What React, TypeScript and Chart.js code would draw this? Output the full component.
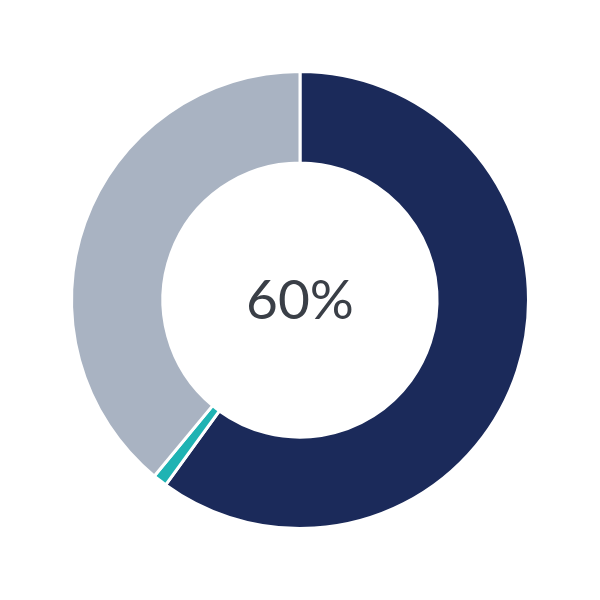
import React, { useEffect, useRef } from "react";
import { Chart, registerables } from "chart.js";

Chart.register(...registerables);

const labels = ["Achieved", "In progress", "Remaining"];
const values = [60, 1, 39];
const colors = ["#1b2a5a", "#1fb3b3", "#a9b3c2"];
const centerLabel = "60%";

export default function App() {
  const ref = useRef<HTMLCanvasElement | null>(null);
  useEffect(() => {
    if (!ref.current) return;
    const centerText = {
      id: "centerText",
      afterDraw(chart: any) {
        const { ctx, chartArea } = chart;
        const cx = (chartArea.left + chartArea.right) / 2;
        const cy = (chartArea.top + chartArea.bottom) / 2;
        ctx.save();
        ctx.font = "400 55px Lato";
        ctx.fillStyle = "#3a3f47";
        ctx.textAlign = "center";
        ctx.textBaseline = "middle";
        ctx.fillText(centerLabel, cx, cy + 1);
        ctx.restore();
      },
    };
    const chart = new Chart(ref.current, {
      type: "doughnut",
      data: {
        labels,
        datasets: [
          {
            data: values,
            backgroundColor: colors,
            borderColor: "#ffffff",
            borderWidth: 3,
            hoverOffset: 0,
          },
        ],
      },
      options: {
        animation: false,
        responsive: false,
        cutout: "60%",
        layout: { padding: 70 },
        plugins: { legend: { display: false }, tooltip: { enabled: false } },
      },
      plugins: [centerText],
    });
    return () => chart.destroy();
  }, []);
  return (
    <div style={{ position: "fixed", left: 0, top: 0, width: 600, height: 600, background: "#fff" }}>
      <canvas ref={ref} width={600} height={600} style={{ width: 600, height: 600 }} />
    </div>
  );
}
